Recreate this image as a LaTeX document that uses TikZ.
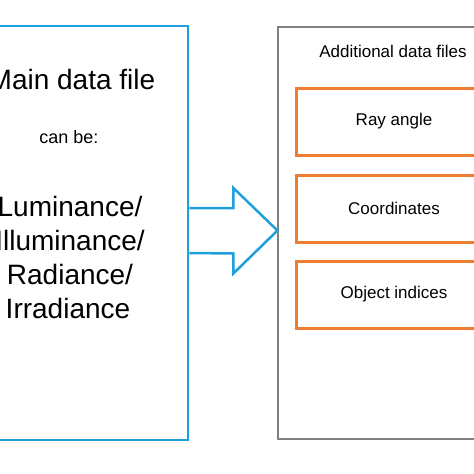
\documentclass[tikz,border=0pt]{standalone}
\usepackage{fontspec}
\setmainfont{Liberation Sans}
\usetikzlibrary{calc}
\definecolor{mainblue}{RGB}{30,160,220}
\definecolor{fileorange}{RGB}{237,125,49}
\definecolor{framegray}{RGB}{128,128,128}
\tikzset{
  mainbox/.style={draw=mainblue, line width=2.8pt, rectangle, inner sep=0pt},
  addbox/.style={draw=framegray, line width=1.1pt, rectangle, inner sep=0pt},
  filebox/.style={draw=fileorange, line width=3pt, rectangle, inner sep=0pt,
    minimum width=196pt, minimum height=67pt, font=\fontsize{17}{20}\selectfont},
  bigtext/.style={anchor=base, inner sep=0pt, font=\fontsize{28}{34}\selectfont},
  smalltext/.style={anchor=base, inner sep=0pt, font=\fontsize{17}{20}\selectfont},
  blockarrow/.style={draw=mainblue, line width=2.5pt, line join=miter}
}
\begin{document}
\begin{tikzpicture}[x=1pt,y=-1pt]
\useasboundingbox (0,0) rectangle (474,474);
\fill[white] (0,0) rectangle (474,474);
% boxes
\node[mainbox, minimum width=238pt, minimum height=414pt] (main) at (69,233) {};
\node[addbox, minimum width=232pt, minimum height=412pt] (add) at (394,233) {};
\node[filebox] (ray) at (394,121.5) {Ray angle};
\node[filebox] (coord) at (394,208.5) {Coordinates};
\node[filebox] (obj) at (394,294.5) {Object indices};
% texts
\node[bigtext] (title) at (72,89) {Main data file};
\node[anchor=base, inner sep=0pt, font=\fontsize{18}{21}\selectfont] (canbe) at (69,143) {can be:};
\node[bigtext] (lum) at (70,216) {Luminance/};
\node[bigtext] (ill) at (70,250) {Illuminance/};
\node[bigtext] (rad) at (70,284) {Radiance/};
\node[bigtext] (irr) at (68,318) {Irradiance};
\node[smalltext] (addtitle) at (393,57) {Additional data files};
% block arrow from main box to additional box
\coordinate (aS) at (main.east |- 0,230.5);
\coordinate (aT) at (add.west |- 0,230.5);
\draw[blockarrow] ($(aS)+(0,-22.5)$) -- ++(44,0) -- ++(0,-20) -- (aT) -- ($(aS)+(44,43)$) -- ++(0,-20) -- ($(aS)+(0,22.5)$);
\end{tikzpicture}
\end{document}
